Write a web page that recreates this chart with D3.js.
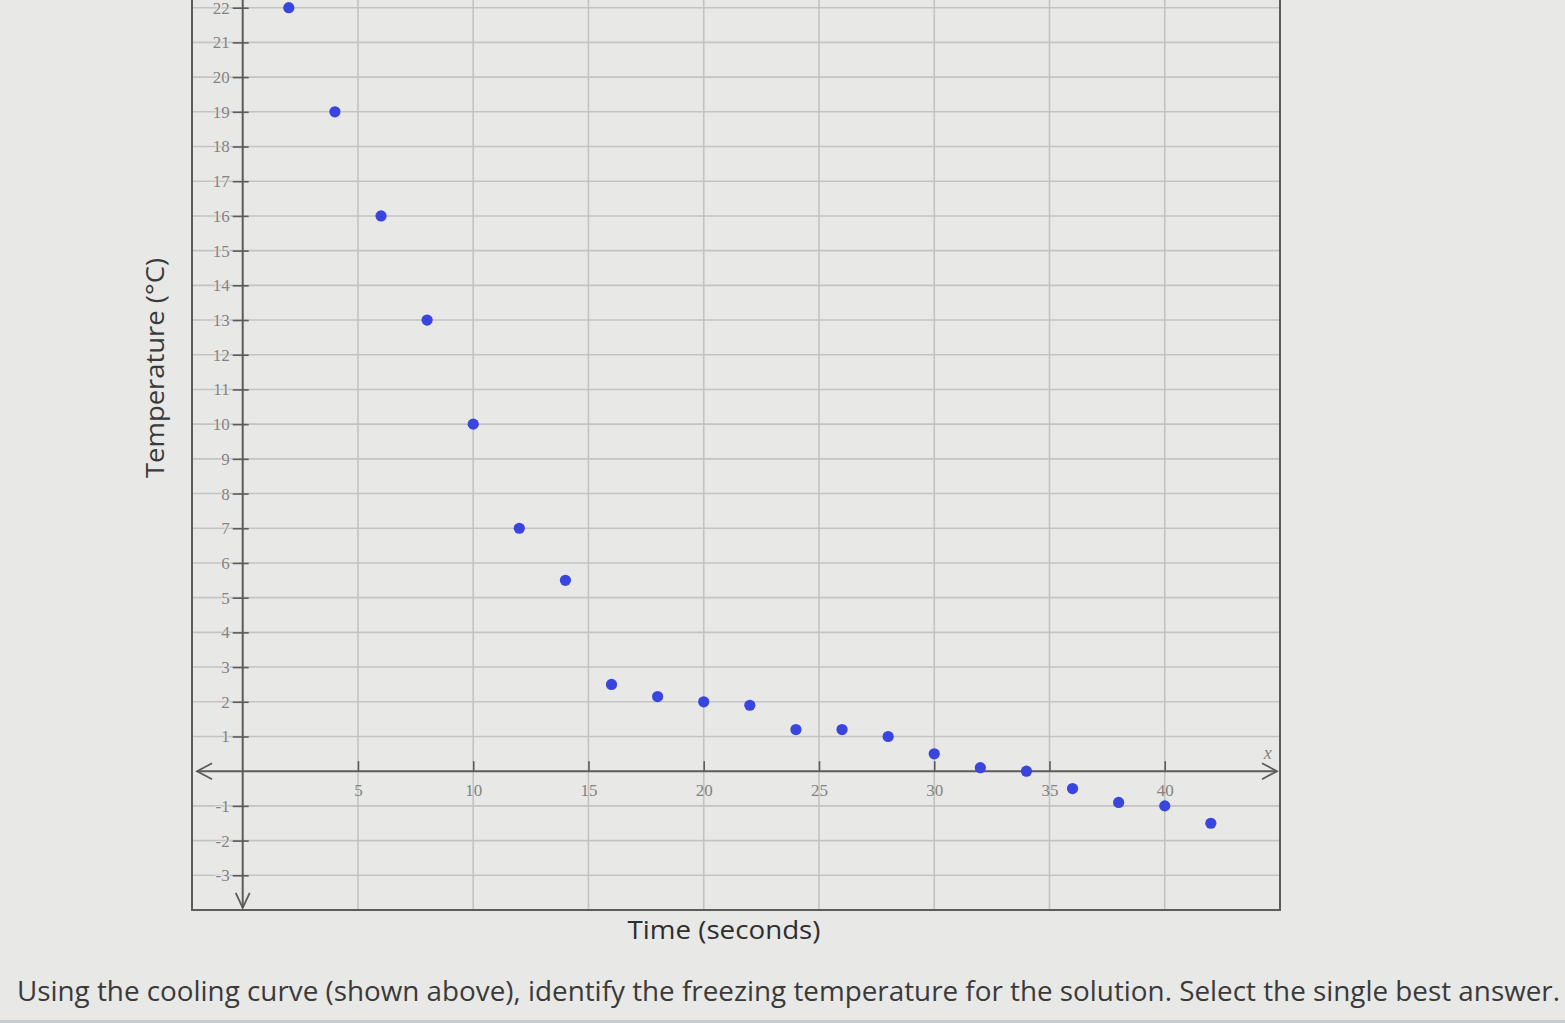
<!DOCTYPE html>
<html>
<head>
<meta charset="utf-8">
<script src="https://cdn.jsdelivr.net/npm/d3@7"></script>
<style>
body { margin: 0; background: #e8e8e6; overflow: hidden; }
</style>
</head>
<body>
<svg id="chart" width="1565" height="1023"></svg>
<script>
var times = [2, 4, 6, 8, 10, 12, 14, 16, 18, 20, 22, 24, 26, 28, 30, 32, 34, 36, 38, 40, 42]
var temps = [22, 19, 16, 13, 10, 7, 5.5, 2.5, 2.15, 2.0, 1.9, 1.2, 1.2, 1.0, 0.5, 0.1, 0, -0.5, -0.9, -1.0, -1.5]
var xTicks = [5, 10, 15, 20, 25, 30, 35, 40]
var yTicks = [-3, -2, -1, 1, 2, 3, 4, 5, 6, 7, 8, 9, 10, 11, 12, 13, 14, 15, 16, 17, 18, 19, 20, 21, 22]
var xGrid = [5, 10, 15, 20, 25, 30, 35, 40]
var yGrid = [-3, -2, -1, 1, 2, 3, 4, 5, 6, 7, 8, 9, 10, 11, 12, 13, 14, 15, 16, 17, 18, 19, 20, 21, 22, 23]

const BG = "#e8e8e6",
	GRID = "#c3c3c2",
	AXIS = "#5c5c5c",
	LABEL = "#838383",
	DOT = "#3a45e0"

var chart = d3.select("#chart")
chart.append("rect").attr("width", 1565).attr("height", 1023).attr("fill", BG)
chart.append("rect").attr("y", 1020).attr("width", 1565).attr("height", 3).attr("fill", "#c8cbcb")

var x = d3.scaleLinear().domain([-2.2, 45]).range([192, 1280])
var y = d3.scaleLinear().domain([-4, 23]).range([910, -27])

var g = chart.append("g")

// grid
g.selectAll(".hgrid").data(yGrid).enter()
	.append("line")
		.attr("class", "hgrid")
		.attr("x1", x(-2.2)).attr("x2", x(45))
		.attr("y1", d => y(d)).attr("y2", d => y(d))
		.attr("stroke", GRID).attr("stroke-width", 1.6)
g.selectAll(".vgrid").data(xGrid).enter()
	.append("line")
		.attr("class", "vgrid")
		.attr("x1", d => x(d)).attr("x2", d => x(d))
		.attr("y1", y(23.5)).attr("y2", y(-4))
		.attr("stroke", GRID).attr("stroke-width", 1.6)

// outer box
g.append("rect")
	.attr("x", x(-2.2)).attr("y", y(24))
	.attr("width", x(45) - x(-2.2)).attr("height", y(-4) - y(24))
	.attr("fill", "none").attr("stroke", AXIS).attr("stroke-width", 2)

// axes with crossing ticks
var xAxis = g.append("g").attr("transform", "translate(0," + y(0) + ")")
	.call(d3.axisBottom(x).tickValues(xTicks).tickSizeInner(-10).tickSizeOuter(0).tickPadding(13))
xAxis.select(".domain").remove()
xAxis.selectAll("line").attr("stroke", AXIS).attr("stroke-width", 1.6)
xAxis.selectAll("text")
	.attr("fill", LABEL).attr("font-size", "17px").attr("font-family", "Liberation Serif, serif")

var yAxis = g.append("g").attr("transform", "translate(" + x(0) + ",0)")
	.call(d3.axisLeft(y).tickValues(yTicks).tickSize(10).tickPadding(3).tickFormat(d => String(d)))
yAxis.select(".domain").remove()
yAxis.selectAll("line").attr("x1", 6).attr("stroke", AXIS).attr("stroke-width", 1.6)
yAxis.selectAll("text")
	.attr("fill", LABEL).attr("font-size", "17px").attr("font-family", "Liberation Serif, serif")
	.attr("stroke", BG).attr("stroke-width", 2).attr("paint-order", "stroke")

// axis lines and arrows
g.append("line")
	.attr("x1", x(-1.98)).attr("x2", x(44.87)).attr("y1", y(0)).attr("y2", y(0))
	.attr("stroke", AXIS).attr("stroke-width", 2)
g.append("line")
	.attr("x1", x(0)).attr("x2", x(0)).attr("y1", y(24)).attr("y2", y(-3.94))
	.attr("stroke", AXIS).attr("stroke-width", 2)
var arrows = [
	[[x(-1.98) + 15, y(0) - 8], [x(-1.98), y(0)], [x(-1.98) + 15, y(0) + 8]],
	[[x(44.87) - 15, y(0) - 8], [x(44.87), y(0)], [x(44.87) - 15, y(0) + 8]],
	[[x(0) - 7, y(-3.94) - 15], [x(0), y(-3.94)], [x(0) + 7, y(-3.94) - 15]]
]
g.selectAll(".arrow").data(arrows).enter()
	.append("path")
		.attr("class", "arrow")
		.attr("d", d3.line())
		.attr("fill", "none").attr("stroke", AXIS).attr("stroke-width", 1.8)

g.append("text")
	.attr("x", x(44.3)).attr("y", y(0.35))
	.attr("font-family", "Liberation Serif, serif").attr("font-style", "italic")
	.attr("font-size", "18px").attr("fill", LABEL)
	.text("x")

// points
g.selectAll(".dot").data(times).enter()
	.append("circle")
		.attr("class", "dot")
		.attr("cx", d => x(d))
		.attr("cy", (_, i) => y(temps[i]))
		.attr("r", 5.6)
		.attr("fill", DOT)

// axis titles
chart.append("text")
	.attr("transform", "translate(164,368) rotate(-90)")
	.attr("text-anchor", "middle")
	.attr("font-family", "Open Sans, sans-serif").attr("font-size", "26px")
	.attr("fill", "#3a3a3a")
	.attr("textLength", 220).attr("lengthAdjust", "spacingAndGlyphs")
	.text("Temperature (°C)")
chart.append("text")
	.attr("x", 724).attr("y", 939)
	.attr("text-anchor", "middle")
	.attr("font-family", "Open Sans, sans-serif").attr("font-size", "26px")
	.attr("fill", "#2e2e2e")
	.attr("textLength", 193).attr("lengthAdjust", "spacingAndGlyphs")
	.text("Time (seconds)")

chart.append("text")
	.attr("x", 17).attr("y", 1001)
	.attr("font-family", "Open Sans, sans-serif").attr("font-size", "27px")
	.attr("fill", "#3a3a3a")
	.attr("textLength", 1543).attr("lengthAdjust", "spacingAndGlyphs")
	.text("Using the cooling curve (shown above), identify the freezing temperature for the solution. Select the single best answer.")
</script>
</body>
</html>
